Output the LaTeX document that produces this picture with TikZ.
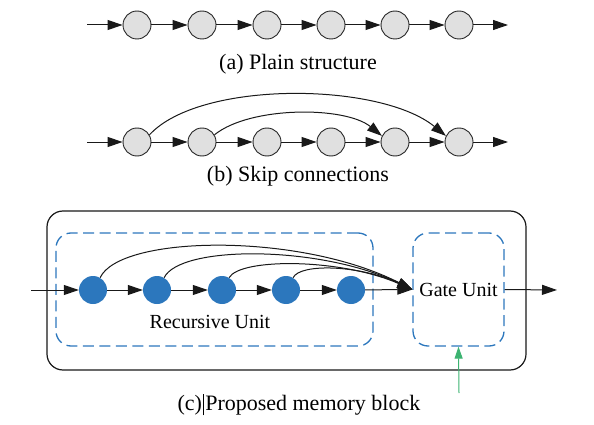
\documentclass[tikz,border=0pt]{standalone}
\usepackage{fontspec}
\setmainfont{Liberation Serif}
\usetikzlibrary{arrows.meta}
\definecolor{myblue}{HTML}{2C77BD}
\definecolor{mygreen}{HTML}{3CB371}
\definecolor{mygray}{HTML}{E0E0E0}
\tikzset{
  graynode/.style={circle, draw=black!85, fill=mygray, line width=0.9pt, minimum size=28pt, inner sep=0pt},
  bluenode/.style={circle, fill=myblue, minimum size=28pt, inner sep=0pt},
  arr/.style={-{Triangle[length=15pt,width=10pt]}, line width=1pt, black!90},
  dashbox/.style={draw=myblue, dashed, dash pattern=on 11pt off 5.5pt, line width=1.3pt, rounded corners=15pt, inner sep=0pt},
  caption/.style={font=\fontsize{22}{26}\selectfont, inner sep=0pt},
  lab/.style={font=\fontsize{20}{24}\selectfont, inner sep=0pt},
}
\begin{document}
\begin{tikzpicture}[x=1pt,y=-1pt]
\useasboundingbox (0,0) rectangle (594,425);
% (a)
\foreach \i/\x in {1/137,2/202,3/267,4/331,5/395,6/459}{
  \node[graynode] (a\i) at (\x,25) {};
}
\coordinate (ain) at (87,25);
\coordinate (aout) at (508,25);
\draw[arr] (ain) -- (a1);
\foreach \i/\j in {1/2,2/3,3/4,4/5,5/6}{ \draw[arr] (a\i) -- (a\j); }
\draw[arr] (a6) -- (aout);
\node[caption] (capa) at (298,64) {(a) Plain structure};
% (b)
\foreach \i/\x in {1/137,2/202,3/267,4/331,5/395,6/459}{
  \node[graynode] (b\i) at (\x,142) {};
}
\coordinate (bin) at (87,142);
\coordinate (bout) at (508,142);
\draw[arr] (bin) -- (b1);
\foreach \i/\j in {1/2,2/3,3/4,4/5,5/6}{ \draw[arr] (b\i) -- (b\j); }
\draw[arr] (b6) -- (bout);
\draw[arr] (b1.30) .. controls (200,80) and (380,82) .. (b6.155);
\draw[arr] (b2.30) .. controls (250,106) and (345,106) .. (b5.155);
\node[caption] (capb) at (298,176) {(b) Skip connections};
% (c)
\node[draw=black!90, line width=1.2pt, rounded corners=16pt, minimum width=479pt, minimum height=159pt, inner sep=0pt] (block) at (286.5,290.5) {};
\node[dashbox, minimum width=317pt, minimum height=113pt] (ru) at (214.5,289.5) {};
\node[dashbox, minimum width=91pt, minimum height=113pt, lab] (gate) at (458.5,289.5) {Gate Unit};
\foreach \i/\x in {1/93,2/157,3/222,4/286,5/351}{
  \node[bluenode] (c\i) at (\x,290) {};
}
\coordinate (cin) at (31,290);
\coordinate (cout) at (557,290);
\draw[arr] (cin) -- (c1);
\foreach \i/\j in {1/2,2/3,3/4,4/5}{ \draw[arr] (c\i) -- (c\j); }
\draw[arr] (c5) -- (gate.west);
\draw[arr] (c1.60) .. controls (120,235) and (300,232) .. (gate.west);
\draw[arr] (c2.60) .. controls (180,245) and (320,245) .. (gate.west);
\draw[arr] (c3.60) .. controls (240,258) and (340,258) .. (gate.west);
\draw[arr] (c4.60) .. controls (300,263) and (360,265) .. (gate.west);
\draw[arr] (gate.east) -- (cout);
\node[lab] (rulab) at (210,322) {Recursive Unit};
\coordinate (gin) at (459,393);
\draw[-{Triangle[length=12pt,width=8pt]}, line width=1pt, mygreen] (gin) -- (gate.south);
\node[caption] (capc) at (299,405) {(c)\kern0.5pt\rule[-0.2em]{0.7pt}{0.95em}\kern2pt Proposed memory block};
\end{tikzpicture}
\end{document}
